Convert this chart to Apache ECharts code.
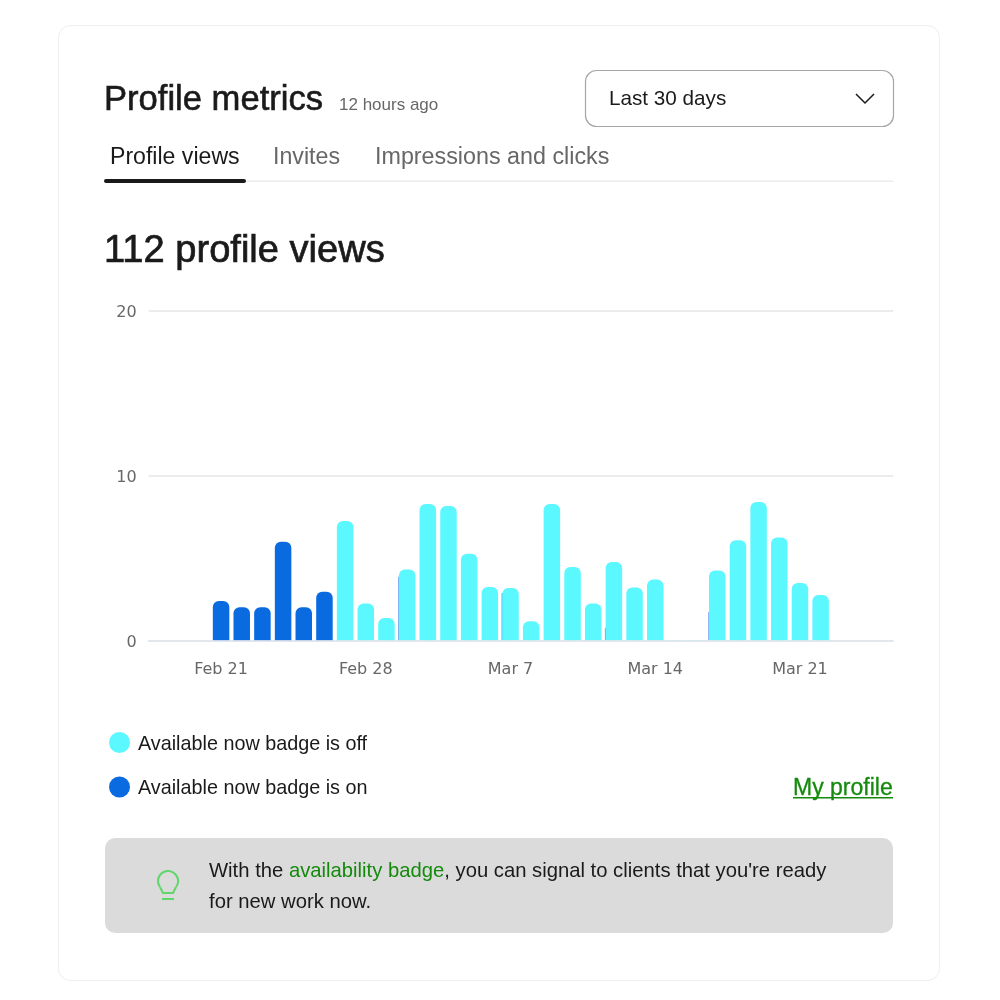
<!DOCTYPE html>
<html><head><meta charset="utf-8">
<style>html,body{margin:0;padding:0;background:#fff}#c{width:1000px;height:1000px}</style>
<script src="https://cdn.jsdelivr.net/npm/echarts@6/dist/echarts.min.js"></script>
</head><body><div id="c"></div>
<script>
const categories = ['Feb 18','Feb 19','Feb 20','Feb 21','Feb 22','Feb 23','Feb 24','Feb 25','Feb 26','Feb 27','Feb 28','Mar 1','Mar 2','Mar 3','Mar 4','Mar 5','Mar 6','Mar 7','Mar 8','Mar 9','Mar 10','Mar 11','Mar 12','Mar 13','Mar 14','Mar 15','Mar 16','Mar 17','Mar 18','Mar 19','Mar 20','Mar 21','Mar 22','Mar 23','Mar 24','Mar 25'];
const tickLabels = ['Feb 21','Feb 28','Mar 7','Mar 14','Mar 21'];
const badgeOn  = [null,null,null,2.42,2.04,2.04,6.02,2.04,2.99,null,null,null,null,null,null,null,null,null,null,null,null,null,null,null,null,null,null,null,null,null,null,null,null,null,null,null];
const badgeOff = [null,null,null,null,null,null,null,null,null,7.27,2.28,1.39,4.34,8.3,8.18,5.29,3.27,3.21,1.19,8.3,4.48,2.28,4.79,3.25,3.72,0.04,0.04,4.28,6.1,8.42,6.28,3.52,2.79,null,null,null];
const badgeOnBehind = [null,null,null,null,null,null,null,null,null,null,null,null,3.9,null,null,null,null,2.9,null,null,null,null,0.8,null,null,null,null,1.75,null,null,null,null,null,null,null,null];

const FONT = '"Liberation Sans", Arial, sans-serif';
const TICKFONT = '"DejaVu Sans", sans-serif';
const CYAN = '#5cf8ff', BLUE = '#0a6be0', INK = '#1a1a1a', GREY = '#676767', GREEN = '#148a0c';
const txt = (x, y, text, size, fill, medium, extra) => ({
  type: 'text', x, y, silent: true, z: 5,
  style: Object.assign({text, fontFamily: FONT, fontSize: size, fill, verticalAlign: 'middle', align: 'left'},
    medium ? {stroke: fill, lineWidth: medium} : {}, extra || {})
});
const chart = echarts.init(document.getElementById('c'), null, {renderer: 'canvas'});
chart.setOption({
  animation: false,
  backgroundColor: '#fff',
  grid: {left: 148.7, top: 311, width: 744.3, height: 330, containLabel: false},
  legend: {
    data: ['Available now badge is off', 'Available now badge is on'],
    orient: 'vertical', left: 104, top: 727, itemGap: 22, itemWidth: 21, itemHeight: 21,
    icon: 'circle', selectedMode: false,
    formatter: '{t|{name}}',
    textStyle: {fontFamily: FONT, fontSize: 19.8, color: INK,
      rich: {t: {fontFamily: FONT, fontSize: 19.8, color: INK, padding: [4, 0, 0, 3]}}}
  },
  xAxis: {
    type: 'category', data: categories, z: 3,
    axisTick: {show: false},
    axisLine: {lineStyle: {color: 'rgba(226,230,236,0.85)', width: 2}},
    axisLabel: {
      margin: 21, fontFamily: TICKFONT, fontSize: 16, color: GREY,
      interval: (i, v) => tickLabels.includes(v)
    }
  },
  yAxis: {
    type: 'value', min: 0, max: 20, interval: 10,
    axisLine: {show: false}, axisTick: {show: false},
    splitLine: {lineStyle: {color: '#e2e4e7', width: 1.5}},
    axisLabel: {margin: 12, fontFamily: TICKFONT, fontSize: 16, color: GREY,
      formatter: '{t|{value}}',
      rich: {t: {fontFamily: TICKFONT, fontSize: 16, color: GREY, padding: [3, 0, 0, 0]}}}
  },
  series: [
    {type: 'custom', name: 'on-behind', z: 1, silent: true, data: badgeOnBehind.map((v, i) => [i, v]),
      renderItem: (p, api) => {
        if (api.value(1) == null || isNaN(api.value(1))) return;
        const top = api.coord([api.value(0), api.value(1)]), bot = api.coord([api.value(0), 0]);
        return {type: 'rect', shape: {x: top[0] - 9, y: top[1], width: 3, height: bot[1] - top[1]}, style: {fill: '#6f9df2'}};
      }},
    {type: 'bar', name: 'Available now badge is on', data: badgeOn, barWidth: 16.5, barGap: '-100%', z: 2,
      itemStyle: {color: BLUE, borderRadius: [6, 6, 0, 0]}},
    {type: 'bar', name: 'Available now badge is off', data: badgeOff, barWidth: 16.5, barGap: '-100%', z: 2,
      itemStyle: {color: CYAN, borderRadius: [6, 6, 0, 0]}}
  ],
  graphic: {elements: [
    {type: 'rect', z: -1, shape: {x: 58.5, y: 25.5, width: 881, height: 955, r: 12}, style: {fill: '#fff', stroke: '#eeeeee', lineWidth: 1}},
    txt(104, 100, 'Profile metrics', 34.6, INK, 0.6),
    txt(339, 105, '12 hours ago', 17, GREY),
    {type: 'rect', z: 4, shape: {x: 585.5, y: 70.5, width: 308, height: 56, r: 11}, style: {fill: '#fff', stroke: '#a6a6a6', lineWidth: 1.2}},
    txt(609, 99, 'Last 30 days', 20.7, INK),
    {type: 'polyline', z: 5, shape: {points: [[856, 94], [865, 103], [874, 94]]}, style: {fill: 'none', stroke: INK, lineWidth: 1.5}},
    txt(110, 158, 'Profile views', 23.1, INK),
    txt(273, 158, 'Invites', 23.2, GREY),
    txt(375, 158, 'Impressions and clicks', 23.3, GREY),
    {type: 'rect', z: 4, shape: {x: 104, y: 180.5, width: 789, height: 1.5}, style: {fill: '#ececec'}},
    {type: 'rect', z: 5, shape: {x: 104, y: 179, width: 142, height: 4, r: 2}, style: {fill: INK}},
    txt(104, 251, '112 profile views', 38.1, INK, 0.7),
    txt(793, 789, 'My profile', 23, GREEN, 0.3),
    {type: 'rect', z: 5, shape: {x: 793, y: 797, width: 100, height: 1.5}, style: {fill: GREEN}},
    {type: 'rect', z: 4, shape: {x: 105, y: 838, width: 788, height: 95, r: 10}, style: {fill: '#dbdbdb'}},
    {type: 'arc', z: 5, shape: {cx: 168, cy: 881, r: 10, startAngle: Math.PI * 0.8, endAngle: Math.PI * 0.2, clockwise: true}, style: {fill: 'none', stroke: '#5fd66a', lineWidth: 2}},
    {type: 'polyline', z: 5, shape: {points: [[160, 887], [163, 893], [173, 893], [176, 887]]}, style: {fill: 'none', stroke: '#5fd66a', lineWidth: 2}},
    {type: 'rect', z: 5, shape: {x: 162, y: 898, width: 12, height: 2}, style: {fill: '#5fd66a'}},
    txt(209, 871.5, '', 20.25, INK, 0, {
      text: '{a|With the }{g|availability badge}{a|, you can signal to clients that you\'re ready}',
      rich: {a: {fontFamily: FONT, fontSize: 20.25, fill: INK}, g: {fontFamily: FONT, fontSize: 20.25, fill: GREEN}}}),
    txt(209, 902.5, 'for new work now.', 20.25, INK)
  ]}
});
</script></body></html>
